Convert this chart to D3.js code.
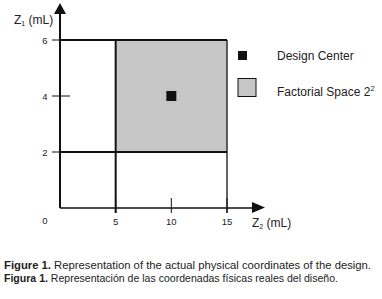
<!DOCTYPE html>
<html>
<head>
<meta charset="utf-8">
<script src="https://cdn.jsdelivr.net/npm/d3@7"></script>
<style>
body { margin: 0; background: #fff; }
text { font-family: "Liberation Sans", Arial, sans-serif; fill: #222; }
</style>
</head>
<body>
<div id="chart"></div>
<script>
// data
var xTicks = [5, 10, 15];
var yTicks = [2, 4, 6];
var factorialX = [5, 15];
var factorialY = [2, 6];
var designCenter = [10, 4];
var legendItems = ["Design Center", "Factorial Space 2"];
var captionLines = [
  ["Figure 1.", " Representation of the actual physical coordinates of the design."],
  ["Figura 1.", " Representación de las coordenadas físicas reales del diseño."]
];

var svg = d3.select("#chart")
  .append("svg")
  .attr("width", 382)
  .attr("height", 299);

var x = d3.scaleLinear().domain([0, 15]).range([60, 227]);
var y = d3.scaleLinear().domain([0, 6]).range([208, 40]);

// grey factorial square
svg.append("rect")
  .attr("x", x(factorialX[0]))
  .attr("y", y(factorialY[1]))
  .attr("width", x(factorialX[1]) - x(factorialX[0]))
  .attr("height", y(factorialY[0]) - y(factorialY[1]))
  .attr("fill", "#c6c6c6");

// frame lines
var lw = 2;
svg.append("line").attr("x1", x(0)).attr("x2", x(15)).attr("y1", y(6)).attr("y2", y(6))
  .attr("stroke", "#111").attr("stroke-width", lw);
svg.append("line").attr("x1", x(0)).attr("x2", x(15)).attr("y1", y(2)).attr("y2", y(2))
  .attr("stroke", "#111").attr("stroke-width", lw);
svg.append("line").attr("x1", x(5)).attr("x2", x(5)).attr("y1", y(6)).attr("y2", y(0) + 5)
  .attr("stroke", "#111").attr("stroke-width", lw);
svg.append("line").attr("x1", x(15)).attr("x2", x(15)).attr("y1", y(6)).attr("y2", y(0) + 5)
  .attr("stroke", "#111").attr("stroke-width", 1.3);

// axes
svg.append("line").attr("x1", x(0)).attr("x2", x(0)).attr("y1", y(0)).attr("y2", 12)
  .attr("stroke", "#111").attr("stroke-width", 2);
svg.append("path").attr("d", "M54,14 L60,3 L66,14 Z").attr("fill", "#111");
svg.append("line").attr("x1", x(0)).attr("x2", 254).attr("y1", y(0)).attr("y2", y(0))
  .attr("stroke", "#111").attr("stroke-width", 1.5);
svg.append("path").attr("d", "M252,202 L265,207.5 L252,213 Z").attr("fill", "#111");

// y ticks
svg.selectAll(".ytick").data(yTicks).enter()
  .append("line").attr("class", "ytick")
  .attr("x1", 52).attr("x2", function(d){ return d == 4 ? 70 : 60; })
  .attr("y1", function(d){ return y(d); }).attr("y2", function(d){ return y(d); })
  .attr("stroke", "#111").attr("stroke-width", 1);
svg.selectAll(".ylab").data(yTicks).enter()
  .append("text").attr("class", "ylab")
  .attr("x", 45).attr("y", function(d){ return y(d) + 3.5; })
  .attr("text-anchor", "middle").attr("font-size", 9.5)
  .text(function(d){ return d; });

// x ticks
svg.selectAll(".xtick").data(xTicks).enter()
  .append("line").attr("class", "xtick")
  .attr("x1", function(d){ return x(d); }).attr("x2", function(d){ return x(d); })
  .attr("y1", y(0) - 10).attr("y2", y(0) + 5)
  .attr("stroke", "#111").attr("stroke-width", 1);
svg.selectAll(".xlab").data(xTicks).enter()
  .append("text").attr("class", "xlab")
  .attr("x", function(d){ return x(d); }).attr("y", 225)
  .attr("text-anchor", "middle").attr("font-size", 9.5)
  .text(function(d){ return d; });
svg.append("text").attr("x", 45).attr("y", 224).attr("text-anchor", "middle")
  .attr("font-size", 9.5).text("0");

// axis titles
var yl = svg.append("text").attr("x", 14).attr("y", 24).attr("font-size", 12);
yl.append("tspan").text("Z");
yl.append("tspan").attr("font-size", 7).attr("dy", 2).text("1");
yl.append("tspan").attr("dy", -2).text(" (mL)");
var xl = svg.append("text").attr("x", 252).attr("y", 227).attr("font-size", 12);
xl.append("tspan").text("Z");
xl.append("tspan").attr("font-size", 7).attr("dy", 2).text("2");
xl.append("tspan").attr("dy", -2).text(" (mL)");

// design center
svg.append("rect")
  .attr("x", x(designCenter[0]) - 5).attr("y", y(designCenter[1]) - 5)
  .attr("width", 10).attr("height", 10).attr("fill", "#111");

// legend
svg.append("rect").attr("x", 238).attr("y", 51).attr("width", 9).attr("height", 9).attr("fill", "#111");
svg.append("rect").attr("x", 238).attr("y", 78.5).attr("width", 18).attr("height", 18)
  .attr("fill", "#c6c6c6").attr("stroke", "#111").attr("stroke-width", 1);
svg.append("text").attr("x", 277).attr("y", 59.5).attr("font-size", 12).text(legendItems[0]);
var lg = svg.append("text").attr("x", 277).attr("y", 96).attr("font-size", 12);
lg.append("tspan").text(legendItems[1]);
lg.append("tspan").attr("font-size", 7.5).attr("dy", -5).text("2");

// caption
var cap = svg.selectAll(".cap").data(captionLines).enter()
  .append("text").attr("class", "cap")
  .attr("x", 4).attr("y", function(d, i){ return 269 + i * 12.5; })
  .attr("font-size", 11)
  .style("font-family", "'Liberation Sans Narrow', 'Arial Narrow', sans-serif")
  .attr("textLength", function(d, i){ return i == 0 ? 367 : 334; })
  .attr("lengthAdjust", "spacingAndGlyphs");
cap.append("tspan").attr("font-weight", "bold").text(function(d){ return d[0]; });
cap.append("tspan").text(function(d){ return d[1]; });
</script>
</body>
</html>
